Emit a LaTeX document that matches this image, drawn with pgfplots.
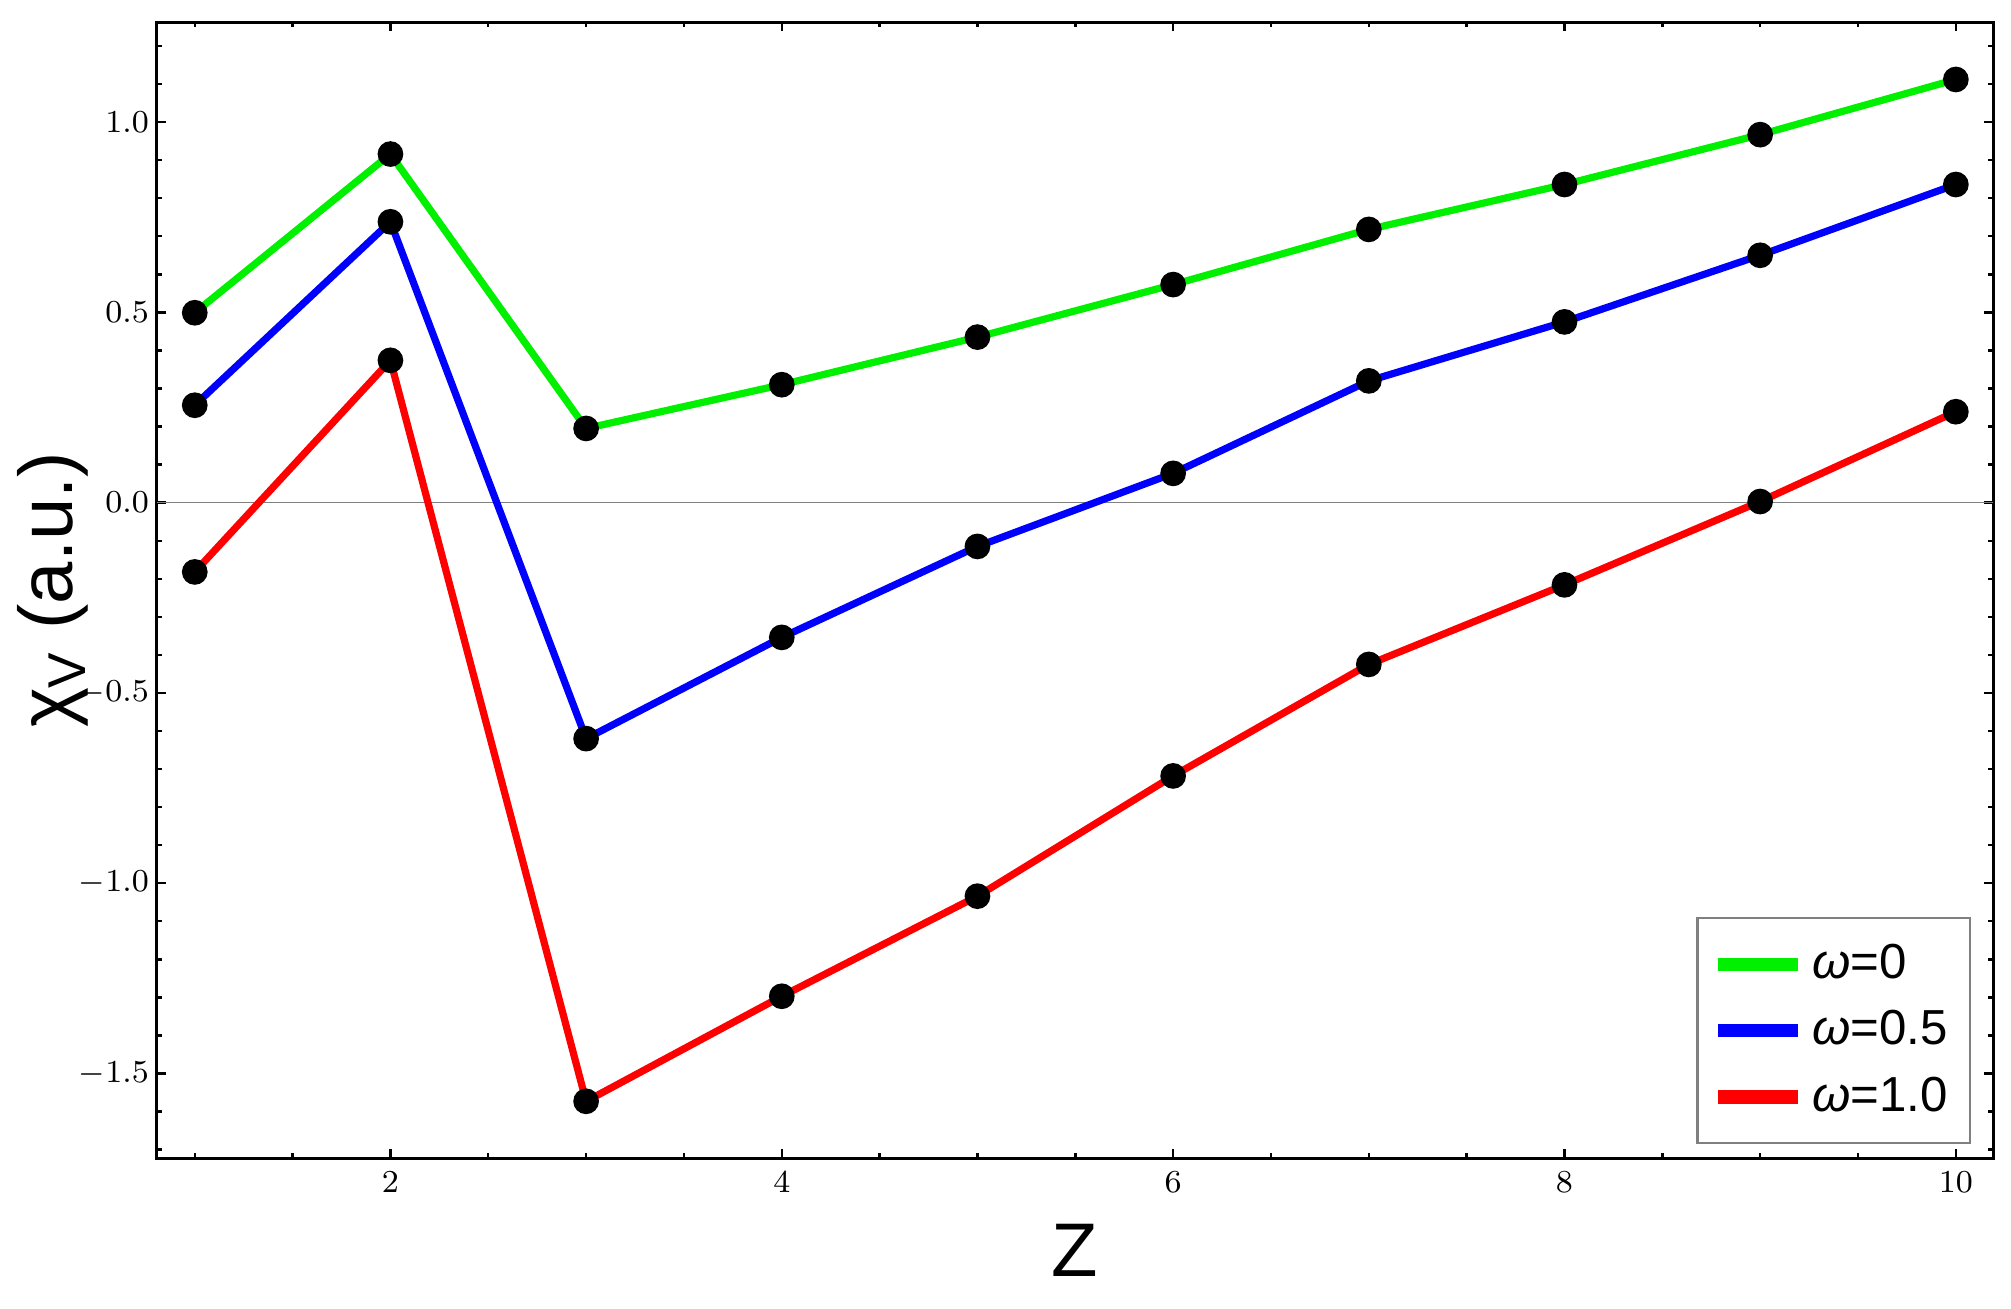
\documentclass[border=0pt]{standalone}
\usepackage{fontspec}
\setmainfont{Liberation Sans}
\usepackage{pgfplots}
\pgfplotsset{compat=1.18}
\definecolor{cgreen}{RGB}{0,240,0}
\definecolor{cblue}{RGB}{0,0,255}
\definecolor{cred}{RGB}{255,0,0}
\begin{document}
\begin{tikzpicture}
\begin{axis}[
  scale only axis, width=459pt, height=284pt,
  xmin=0.807, xmax=10.19, ymin=-1.722, ymax=1.263,
  xtick={2,4,6,8,10},
  minor xtick={1,1.5,2.5,3,3.5,4.5,5,5.5,6.5,7,7.5,8.5,9,9.5,10},
  ytick={-1.5,-1,-0.5,0,0.5,1},
  minor ytick={-1.7,-1.6,-1.4,-1.3,-1.2,-1.1,-0.9,-0.8,-0.7,-0.6,-0.4,-0.3,-0.2,-0.1,0.1,0.2,0.3,0.4,0.6,0.7,0.8,0.9,1.1,1.2},
  tick align=inside,
  major tick length=2.2pt, minor tick length=1.3pt,
  every tick/.style={black, line width=0.6pt},
  axis line style={line width=0.75pt},
  yticklabel style={/pgf/number format/fixed, /pgf/number format/fixed zerofill, /pgf/number format/precision=1, xshift=1.5pt},
  ticklabel style={font=\fontsize{7.6}{8}\selectfont},
  xlabel={Z}, ylabel={χ\textsubscript{V} (a.u.)},
  label style={font=\fontsize{19}{22}\selectfont},
  xlabel style={at={(axis description cs:0.5,0)}, anchor=center, yshift=-23pt},
  ylabel style={at={(axis description cs:0,0.5)}, anchor=center, xshift=0pt, yshift=26pt},
  extra y ticks={0}, extra y tick labels={},
  extra y tick style={grid=major, major grid style={gray, line width=0.4pt}, major tick length=0pt},
  legend style={at={(axis description cs:0.988,0.012)}, anchor=south east,
    draw=gray, line width=0.6pt, font=\fontsize{12.3}{14}\selectfont,
    inner xsep=3.5pt, inner ysep=4.5pt, row sep=2.5pt},
  legend cell align=left,
  legend image code/.code={\draw[line width=3.3pt] (0cm,0cm) -- (0.7cm,0cm);},
  every axis plot/.append style={line width=1.8pt, mark=*, mark size=2.3pt, mark options={black, fill=black, solid}},
]
\coordinate (sw) at (rel axis cs:0,0);
\coordinate (ne) at (rel axis cs:1,1);
\addplot[cgreen] coordinates {(1,0.499) (2,0.916) (3,0.195) (4,0.31) (5,0.435) (6,0.573) (7,0.718) (8,0.836) (9,0.967) (10,1.112)};
\addlegendentry{\textit{ω}=0}
\addplot[cblue] coordinates {(1,0.256) (2,0.738) (3,-0.62) (4,-0.354) (5,-0.115) (6,0.077) (7,0.32) (8,0.475) (9,0.65) (10,0.836)};
\addlegendentry{\textit{ω}=0.5}
\addplot[cred] coordinates {(1,-0.182) (2,0.374) (3,-1.573) (4,-1.297) (5,-1.034) (6,-0.718) (7,-0.425) (8,-0.216) (9,0.003) (10,0.239)};
\addlegendentry{\textit{ω}=1.0}
\end{axis}
\pgfresetboundingbox
\path ([shift={(-39.25pt,-37.5pt)}]sw) rectangle ([shift={(4.5pt,5.5pt)}]ne);
\end{tikzpicture}
\end{document}
